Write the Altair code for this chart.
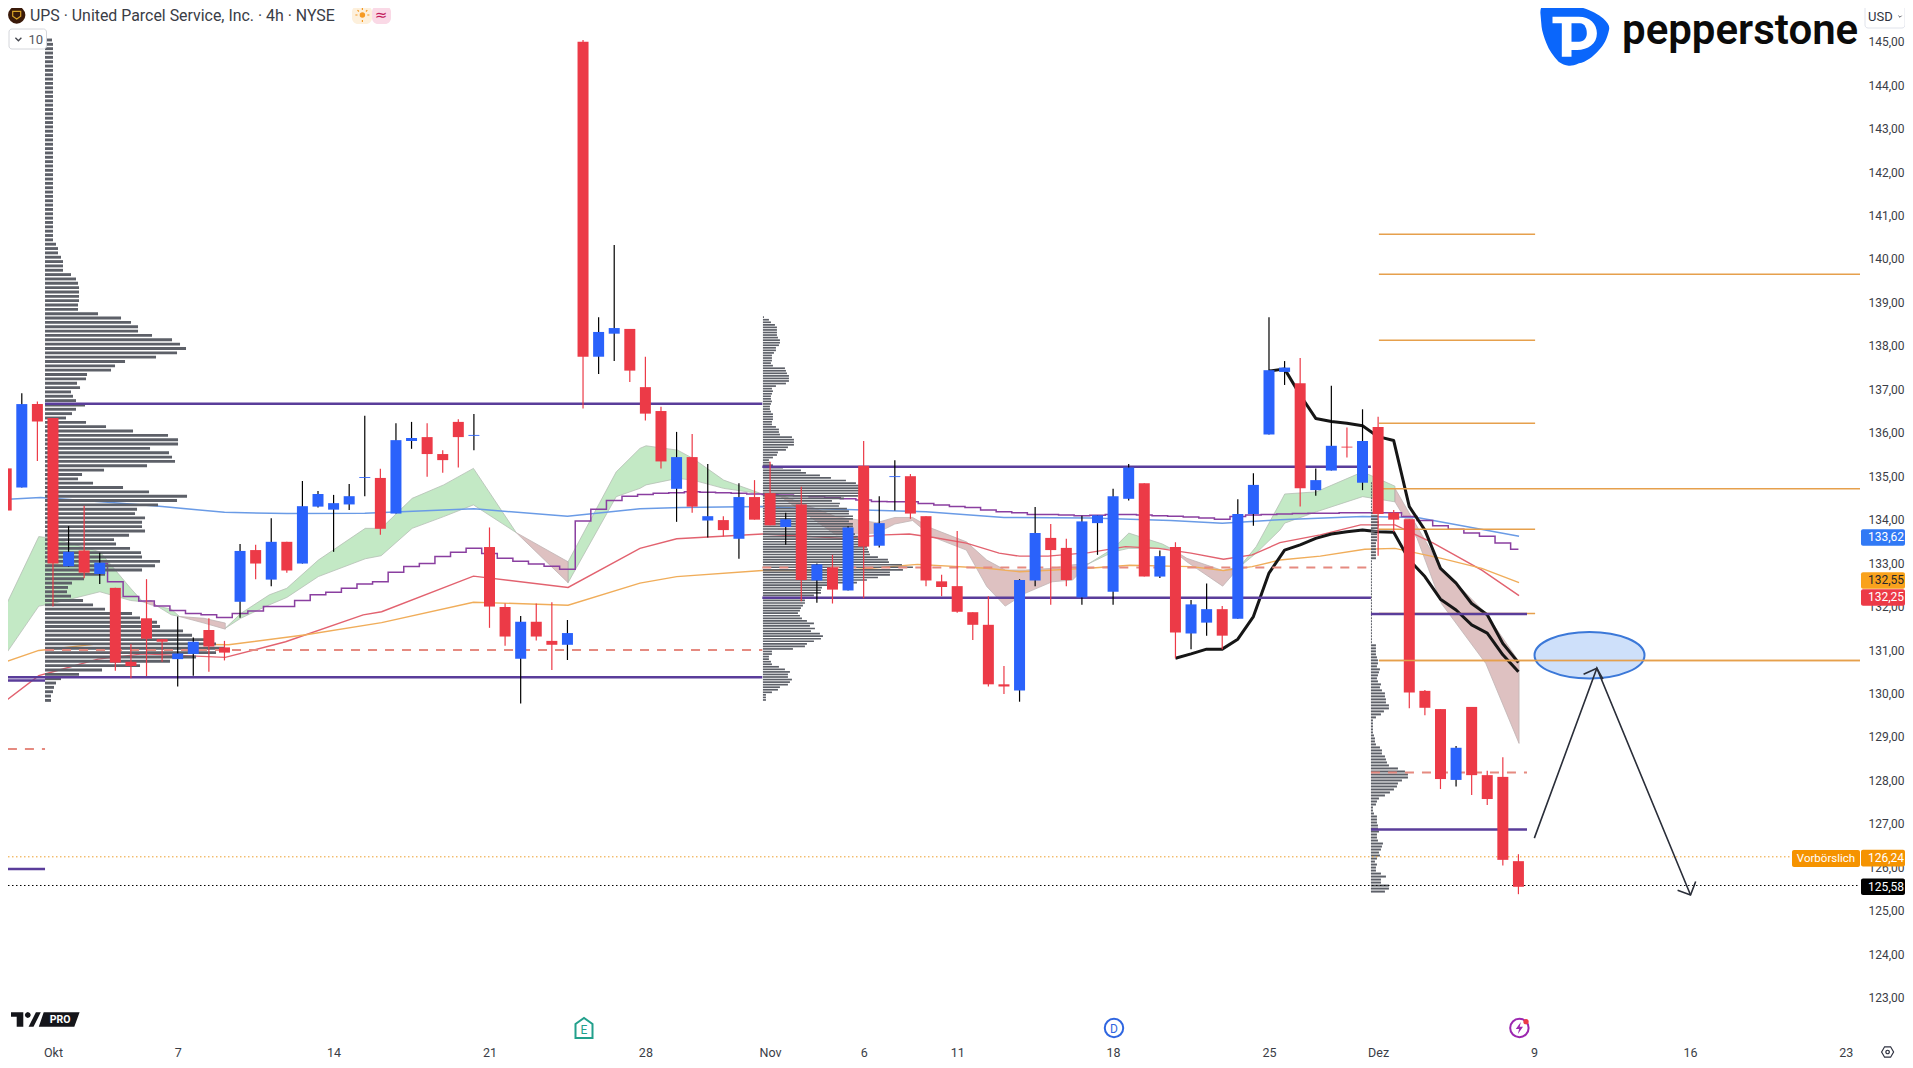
import altair as alt
import pandas as pd

FONT = "Roboto, sans-serif"
TXT = "#3a3d46"
RED = "#ec3a47"
BLUE = "#2a62fb"

# ---------- candles (open, high, low, close), one per 4h bar
opens = [135.18,134.74,136.66,136.34,132.93,133.29,132.75,132.43,130.73,131.73,131.25,130.79,130.91,131.46,131.06,132.11,133.30,132.62,133.49,132.99,
         134.30,134.23,134.35,134.96,134.96,134.14,135.81,135.90,135.51,136.25,135.93,133.37,131.99,130.80,131.65,131.21,131.12,145.00,137.75,138.28,
         138.39,137.05,136.50,134.71,135.44,133.98,133.99,133.56,134.52,134.61,133.83,134.35,132.60,132.90,132.37,135.24,133.40,134.98,135.00,134.08,
         132.58,132.47,131.87,131.58,130.21,130.07,132.60,133.58,133.35,132.21,133.92,132.34,134.48,134.84,132.69,133.37,131.38,131.63,131.94,131.72,
         134.13,135.96,137.40,137.14,134.68,135.13,135.68,134.85,136.13,134.16,134.01,130.06,129.64,128.01,129.69,128.12,128.08,126.14]
highs = [135.22,136.91,136.72,136.34,133.85,134.32,133.24,132.43,131.14,132.63,131.25,131.77,131.29,131.73,131.21,133.44,133.42,134.03,133.49,134.89,
         134.66,134.57,134.82,136.39,135.17,136.22,136.25,136.22,135.60,136.31,136.43,133.82,132.07,131.78,132.07,132.10,131.69,145.04,138.66,140.32,
         138.39,137.75,136.60,136.02,135.97,135.28,134.08,134.84,134.91,135.33,134.16,134.76,132.99,133.19,133.85,135.81,134.54,135.37,135.05,134.08,
         132.73,133.74,131.87,132.24,130.63,132.63,134.29,133.90,133.56,134.09,134.10,134.71,135.28,134.84,133.29,133.48,132.15,132.53,132.01,134.47,
         135.07,138.66,137.65,137.72,135.18,137.08,136.12,136.54,136.37,134.22,134.01,130.08,129.64,128.79,129.69,128.22,128.53,126.30]
lows = [134.16,134.74,135.35,132.00,132.92,132.65,132.52,130.52,130.35,130.40,130.73,130.16,130.41,130.50,130.76,131.74,132.63,132.47,132.78,132.99,
        134.28,133.26,134.22,134.54,133.65,134.14,135.63,134.99,135.08,135.20,135.60,131.51,131.10,129.77,131.22,130.54,130.77,136.56,137.35,137.65,
        137.17,136.28,135.18,133.95,134.16,133.59,133.61,133.10,134.00,133.87,133.42,132.12,132.09,132.07,132.37,132.19,133.36,134.21,134.02,132.47,
        132.24,131.86,131.23,130.16,129.99,129.81,132.47,132.04,132.47,132.04,133.19,132.04,134.44,132.69,132.66,130.81,131.02,131.33,131.02,131.72,
        133.86,135.96,137.10,134.30,134.55,135.13,135.43,134.68,133.17,133.72,129.66,129.50,127.80,127.86,127.66,127.43,126.04,125.38]
closes = [134.21,136.66,136.26,132.99,133.26,132.78,133.01,130.71,130.63,131.26,131.19,130.92,131.19,131.08,130.94,133.28,132.99,133.49,132.83,134.31,
          134.59,134.38,134.54,134.98,133.79,135.83,135.88,135.51,135.37,135.90,135.95,132.00,131.31,131.65,131.31,131.12,131.39,137.75,138.32,138.41,
          137.43,136.44,135.34,135.44,134.30,134.08,133.76,134.52,134.00,133.87,134.01,132.61,132.97,132.39,133.82,133.38,133.92,135.00,134.14,132.60,
          132.45,131.88,131.58,130.21,130.16,132.61,133.69,133.30,132.61,133.96,134.10,134.54,135.20,132.69,133.16,131.40,132.05,131.94,131.33,134.13,
          134.80,137.44,137.50,134.72,134.91,135.70,135.66,135.81,134.13,134.00,130.02,129.67,128.03,128.75,128.12,127.57,126.17,125.55]

# ---------- moving averages (bar position, price)
blue_x = [0,2.2,6.1,10,14,18,23,30,36,40.65,43.3,48.5,51,55,59,64,69.5,74.7,78,81.7,87,90.5,97.04]
blue_p = [134.47,134.51,134.41,134.30,134.17,134.14,134.15,134.25,134.08,134.25,134.28,134.30,134.26,134.22,134.18,134.05,134.04,133.98,133.92,134.00,134.07,134.05,133.62]
red_x = [0,2.09,3,5.88,8.76,12.17,14.05,17.92,22.9,24.08,29.97,36.04,40.65,43.01,48.5,53.74,56.36,57.93,59.5,61.59,63.69,65,66.83,69.45,71.8,73.9,76,78.08,79.92,81.7,84.29,86.88,89.08,91.54,94.65,97.04]
red_p = [129.84,130.41,130.5,130.79,130.91,130.86,130.83,131.19,131.81,131.88,132.70,132.44,133.34,133.56,133.67,133.57,133.65,133.67,133.59,133.46,133.23,133.16,133.16,133.24,133.38,133.34,133.23,133.09,133.19,133.47,133.65,133.88,133.88,133.46,132.84,132.25]
orange_x = [0,2.09,5.88,10.07,14.26,19.23,24.08,29.97,36.04,40.65,43.01,48.5,53.74,58.45,62.9,65,69.45,72.06,76,78.08,79.92,81.7,84.29,87.14,89.08,92.06,94.65,97.04]
orange_p = [130.73,130.99,131.14,131.14,131.12,131.35,131.63,132.10,132.03,132.54,132.69,132.83,132.83,132.97,132.88,132.80,132.88,132.95,132.92,132.83,132.92,133.07,133.16,133.32,133.34,133.11,132.88,132.55]
purple_start = 6
purple_p = [132.99,132.57,132.23,132.13,132.01,131.91,131.84,131.81,131.75,131.84,131.90,132.00,132.00,132.14,132.27,132.33,132.42,132.52,132.57,132.79,
            132.92,132.99,133.15,133.25,133.34,133.22,133.11,133.04,132.98,132.93,132.86,133.97,134.24,134.44,134.54,134.58,134.61,134.62,134.64,134.63,
            134.62,134.61,134.59,134.58,134.57,134.55,134.53,134.51,134.48,134.45,134.42,134.41,134.41,134.37,134.34,134.30,134.28,134.22,134.18,134.16,
            134.12,134.12,134.11,134.09,134.10,134.12,134.12,134.11,134.09,134.08,134.06,134.04,134.01,134.07,134.11,134.12,134.13,134.14,134.15,134.15,
            134.16,134.16,134.16,134.16,134.07,133.98,133.86,133.78,133.69,133.62,133.46,133.32]
black1_start = 75
black1_p = [130.81,130.91,131.02,131.02,131.25,131.77,132.77,133.30,133.42,133.57,133.67,133.72,133.76,133.72,133.71,133.07,132.69,132.17,131.92,131.58,131.39,130.89,130.50]
black2_start = 81
black2_p = [137.42,137.47,136.87,136.33,136.26,136.22,136.16,135.91,135.82,134.30,133.76,132.88,132.54,132.07,131.81,131.15,130.71]

# ---------- ribbon: kind, then (bar position, upper, lower)
ribbon = [
 ("g", [(0,132.04,130.92),(2.09,133.61,132.01),(3,133.57,132.07),(6.01,133.26,132.34),(7.98,132.42,132.14),(8.76,132.11,132.11)]),
 ("r", [(8.76,132.11,132.11),(9.29,132.14,132.04),(9.68,132.01,132.01)]),
 ("g", [(9.68,132.01,132.01),(10.59,131.94,131.81),(11.12,131.77,131.77)]),
 ("r", [(11.12,131.77,131.77),(12.69,131.73,131.62),(14.05,131.62,131.48)]),
 ("g", [(14.05,131.50,131.50),(15.04,131.84,131.73),(16.88,132.27,132.04),(18,132.42,132.21),(20.02,133.07,132.69),(23.03,133.80,133.10),(24.05,133.80,133.17),(26.04,134.49,133.80),(28.06,134.80,134.07),(29.97,135.18,134.34),(32.72,133.70,133.70)]),
 ("r", [(32.72,133.70,133.70),(36.04,133.03,132.55)]),
 ("g", [(36.04,133.03,132.55),(39.13,135.10,134.53),(40.65,135.64,134.72),(41.04,135.70,134.80),(43.06,135.60,134.95),(44.05,135.41,134.91),(46.02,134.91,134.72),(48.5,134.59,134.59)]),
 ("r", [(48.5,134.59,134.59),(49.68,134.57,134.53),(53.22,134.07,133.65),(55.83,133.93,133.69),(57,134.05,133.90),(58.14,134.05,133.98),(59.37,133.80,133.61),(61.59,133.49,133.30),(62.9,133.07,132.46),(64.08,132.84,132.01),(65.39,132.84,132.31),(67.09,132.88,132.57),(68.4,132.96,132.61),(69.45,132.99,132.99)]),
 ("g", [(69.45,132.99,132.99),(71.02,133.34,133.26),(72.01,133.69,133.34),(74.16,133.44,133.34),(74.68,133.34,133.34)]),
 ("r", [(74.68,133.34,133.34),(75.73,133.11,133.03),(78.03,132.83,132.47),(79.13,132.92,132.92)]),
 ("g", [(79.13,132.92,132.92),(80.18,133.38,133.23),(81.7,134.38,133.76),(82.01,134.59,133.92),(84.03,134.64,134.18),(87.01,135.10,134.53),(89.08,134.77,134.41)]),
 ("r", [(89.08,134.72,134.41),(90.5,133.84,133.57),(92.06,132.88,132.07),(94.91,131.84,130.69),(97.04,130.73,128.85)]),
]

# ---------- volume profiles (row volume, top row to bottom row)
vp1_top, vp1_bottom, vp1_base = 145.04, 129.84, 2.49
vp1 = [7]+[8]*46+[11,13,13,16,18,18,18,26,31,33,34,34,34,34,33,33,53,76,86,93,93,107,127,135,141,132,111,
       80,70,66,42,41,32,35,26,28,31,40,31,27,21,41,61,88,123,133,133,105,124,127,130,102,59,37,33,48,78,104,142,132,113,92,90,100,97,97,100,84,69,71,85,96,97,115,110,97,60,39,27,23,22,26,38,48,60,87,95,112,115,138,147,159,171,180,171,151,125,95,57,34,16,11,9,8,6,6]
vp2_top, vp2_bottom, vp2_base = 138.66, 129.85, 48.54
vp2 = [1,6,8,12,14,14,14,14,15,17,17,16,13,13,11,9,9,9,8,10,22,23,24,26,26,26,23,13,9,10,9,8,8,9,8,7,7,8,10,10,10,9,9,13,16,16,17,29,31,31,31,25,23,15,14,10,6,7,10,20,
       38,43,57,68,83,93,99,100,100,100,95,81,69,77,76,84,86,86,90,90,86,
       90,90,88,88,92,95,98,100,102,104,105,106,107,115,125,126,139,150,140,127,127,115,104,94,75,59,58,58,51,42,42,42,40,38,37,35,37,39,44,51,47,52,48,57,60,58,51,44,42,30,9,9,6,6,8,9,16,22,27,25,25,29,27,25,17,15,9,3,3,3]
vp3_top, vp3_bottom, vp3_base = 134.84, 125.44, 87.54
vp3 = [1]*10+[7,7,7,8,8,7,7,6,6,6,5,5,5,5,5,5]+[1]*28+[5,5,5,5,6,7,7,6,9,8,7,6,7,10,9,11,14,14,15,15,
       18,18,13,10,5,2,2,2,2,2,3,4,4,5,9,11,11,14,15,16,18,27,34,37,37,31,27,26,23,19,14,8,6,5,2,2,3,6,6,6,7,7,8,6,6,7,12,11,10,8,9,6,4,6,5,5,10,15,10,10,18,18,14]

# ---------- horizontal levels: start bar, end bar, price
purple_levels = [(2.49,48.5,136.67),(0.11,48.5,130.37),(0.11,2.49,130.30),(48.5,87.54,135.22),(48.5,87.54,132.20),(87.54,97.55,131.83),(87.54,97.55,126.87),(0.11,2.49,125.96)]
dashed_levels = [(2.49,48.5,131.00),(48.5,87.54,132.90),(87.54,97.55,128.18),(0.11,2.49,128.72)]
fib_levels = [(88.05,98.07,140.57),(88.05,118.91,139.65),(88.05,98.07,138.13),(88.05,98.07,136.22),(88.05,118.91,134.71),(88.05,98.07,133.78),(88.05,98.07,131.84),(88.05,118.91,130.76)]

# ---------- projected path and target zone
arrow_x = [98.02,102.03,108.04]
arrow_p = [126.67,130.58,125.36]
head1_x = [101.18,102.03,102.42]
head1_p = [130.44,130.58,130.33]
head2_x = [107.21,108.04,108.37]
head2_p = [125.47,125.36,125.67]
zone_x, zone_p = 101.56, 130.88

# ---------- axes and price tags
tick_idx = [3,11,21,31,41,49,55,61,71,81,88,98,108,118]
tick_lbl = ["Okt","7","14","21","28","Nov","6","11","18","25","Dez","9","16","23"]
price_ticks = list(range(123,146))
tag_text = ["133,62","132,55","132,25","126,24","125,58"]
tag_pos = [133.59,132.60,132.21,126.21,125.55]
tag_fill = ["#3179f5","#f9a21c","#ec3a47","#f59300","#000000"]
tag_ink = ["#ffffff","#26262c","#ffffff","#ffffff","#ffffff"]

label_map = "{" + ",".join(f"'{i}':'{t}'" for i,t in zip(tick_idx,tick_lbl)) + "}"
xaxis = alt.Axis(orient="bottom", values=tick_idx, labelExpr=f"{label_map}[''+datum.value]", title=None, grid=False, domain=False, ticks=False,
        labelPadding=6, labelColor=TXT, labelFont=FONT, labelFontSize=12.5, labelOverlap=False, labelFlush=False, labelBound=False)
yaxis = alt.Axis(orient="right", values=price_ticks, labelExpr="replace(format(datum.value,'.2f'),'.',',')", title=None, grid=False, domain=False, ticks=False,
        labelPadding=8, labelColor=TXT, labelFont=FONT, labelFontSize=12, labelOverlap=False, labelFlush=False, labelBound=False)

xs = alt.Scale(domain=[0.115,118.91], nice=False, zero=False, padding=0)
ys = alt.Scale(domain=[122.024,145.776], nice=False, zero=False, padding=0)
X = lambda f: alt.X(f, type="quantitative", scale=xs, axis=xaxis)
Y = lambda f: alt.Y(f, type="quantitative", scale=ys, axis=yaxis)
one = pd.DataFrame({"a":[0]})

candles = pd.DataFrame({"i":range(len(opens)),"o":opens,"h":highs,"l":lows,"c":closes})
candles["top"] = candles[["o","c"]].max(axis=1)
candles["bot"] = candles[["o","c"]].min(axis=1)
candles["up"] = candles.c >= candles.o
col = alt.condition("datum.up", alt.value(BLUE), alt.value(RED))
wcol = alt.condition("datum.up", alt.value("#000000"), alt.value(RED))

def polyline(xv, pv, color, width, **kw):
    d = pd.DataFrame({"x":xv,"p":pv})
    return alt.Chart(d).mark_line(color=color, strokeWidth=width, clip=True, **kw).encode(x=X("x"),y=Y("p"))

rows = []
for n,(kind,pts) in enumerate(ribbon):
    for x,u,l in pts:
        rows.append({"seg":n,"kind":kind,"x":x,"u":u,"l":l})
rib = pd.DataFrame(rows)
def rib_layer(kind, fill, stroke):
    return alt.Chart(rib[rib.kind==kind]).mark_area(color=fill, opacity=0.85, stroke=stroke, strokeWidth=0.8, orient="vertical", clip=True, interpolate="linear").encode(
        x=X("x"),y=Y("u"),y2="l",detail="seg:N")

def profile(vals, top, bottom, base):
    n = len(vals)
    step = (top-bottom)/(n-1)
    d = pd.DataFrame({"v":vals})
    d["p"] = [top-step*k for k in range(n)]
    d["y1"] = d.p+step*0.33
    d["y2"] = d.p-step*0.33
    d["x1"] = base
    d["x2"] = base+d.v/15.59
    return alt.Chart(d).mark_rect(color="#5d6068").encode(x=X("x1"),x2="x2",y=Y("y1"),y2="y2")

def levels(data, color, width, **kw):
    d = pd.DataFrame(data, columns=["a","b","p"])
    return alt.Chart(d).mark_rule(color=color, strokeWidth=width, clip=True, **kw).encode(x=X("a"),x2="b",y=Y("p"))

def deco(path, px, py, color, size=400, filled=True, sw=1.0):
    return alt.Chart(one).mark_point(shape=path, filled=filled, color=color, opacity=1, size=size, strokeWidth=sw).encode(
        x=alt.value(px-8), y=alt.value(py-8))

def label(t, px, py, size, color=TXT, align="left", weight="normal", font=FONT):
    return alt.Chart(one).mark_text(text=t, fontSize=size, color=color, align=align, baseline="middle", fontWeight=weight, font=font).encode(
        x=alt.value(px-8), y=alt.value(py-8))

def box(x1,x2,y1,y2,fill,stroke=None,radius=3):
    kw = {"stroke":stroke,"strokeWidth":1} if stroke else {}
    return alt.Chart(one).mark_rect(color=fill, cornerRadius=radius, **kw).encode(
        x=alt.value(x1-8),x2=alt.value(x2-8),y=alt.value(y1-8),y2=alt.value(y2-8))

ind = [
       rib_layer("g","#b9e6bb","#a8b4a8"), rib_layer("r","#d9b7b7","#b5a7a7"),
       polyline(blue_x,blue_p,"#6a9be6",1.5), polyline(red_x,red_p,"#e2626f",1.4), polyline(orange_x,orange_p,"#f0ad5a",1.4),
       polyline(list(range(purple_start,purple_start+len(purple_p))),purple_p,"#8a3fa0",1.5,interpolate="step"),
       polyline(list(range(black1_start,black1_start+len(black1_p))),black1_p,"#161616",3,strokeJoin="round"),
       polyline(list(range(black2_start,black2_start+len(black2_p))),black2_p,"#161616",3,strokeJoin="round"),
       profile(vp1,vp1_top,vp1_bottom,vp1_base), profile(vp2,vp2_top,vp2_bottom,vp2_base), profile(vp3,vp3_top,vp3_bottom,vp3_base),
       levels(fib_levels,"#e6a04c",1.5),
       levels(purple_levels,"#5a3d9a",2.5),
       levels(dashed_levels,"#e58a80",2,strokeDash=[9,8]),
       levels([(0.115,118.91,126.24)],"#ee9f2c",1,strokeDash=[1.5,2.5]),
       levels([(0.115,118.91,125.58)],"#000000",1,strokeDash=[1.5,2.5]),
       alt.Chart(candles).mark_rule(strokeWidth=1.2, clip=True).encode(x=X("i"),y=Y("h"),y2="l",color=wcol),
       alt.Chart(candles).mark_bar(size=11, clip=True).encode(x=X("i"),y=Y("top"),y2="bot",color=col),
]

ellipse = "M-1,0C-1,-.234,-.552,-.424,0,-.424C.552,-.424,1,-.234,1,0C1,.234,.552,.424,0,.424C-.552,.424,-1,.234,-1,0Z"
zone = alt.Chart(pd.DataFrame({"x":[zone_x],"p":[zone_p]})).mark_point(shape=ellipse, size=12100, filled=True, color="#9ec2f5", fillOpacity=0.5, stroke="#3b78d8", strokeWidth=2, opacity=1).encode(x=X("x"),y=Y("p"))
zone_line = levels([(88.05,118.91,130.76)],"#e6a04c",1.5)

tag_df = pd.DataFrame({"t":tag_text,"p":tag_pos,"f":tag_fill,"k":tag_ink})
tag_df["a"] = tag_df.p+0.19
tag_df["b"] = tag_df.p-0.19
tags = alt.Chart(tag_df).mark_rect(cornerRadius=2).encode(x=alt.value(1853),x2=alt.value(1897),y=Y("a"),y2="b",color=alt.Color("f:N",scale=None))
tag_txt = alt.Chart(tag_df).mark_text(align="left",baseline="middle",fontSize=12,font=FONT).encode(x=alt.value(1860),y=Y("p"),text="t:N",color=alt.Color("k:N",scale=None))

shield = "M-3.36,-2.17C-3.4,-2.8,-3.1,-3.15,-2.76,-3.1L-.33,-3C1,-2.8,2.3,-2.2,2.9,-1.67C3.4,-1.2,3.6,-.9,3.5,-.5C3.3,.4,3,1,2.5,1.5C1.9,2.2,1.2,2.7,.5,2.83C0,3.05,-.3,3.1,-.53,3.07C-.9,3.05,-1.2,2.9,-1.54,2.67C-2.1,2.1,-2.5,1.5,-2.76,.83C-3,.2,-3.2,-.4,-3.24,-.83Z"
pee = "M-2.15,-1.83L.47,-1.83C1.6,-1.83,2.29,-1.1,2.29,-.17C2.29,.9,1.4,1.5,.3,1.5L-.25,1.5L-.25,2.17L-1.22,2.17L-1.22,-1.17L-2.15,-1.17Z"
pee_hole = "M-.25,-1.17L.6,-1.17C1.1,-1.17,1.28,-.6,1.28,-.17C1.28,.3,1,.67,.5,.67L-.25,.67Z"
tv = "M-3.45,-.72L-2.22,-.72L-2.22,.72L-2.88,.72L-2.88,-.28L-3.45,-.28ZM-1.69,.72L-.96,-.72L-.47,-.72L-1.2,.72ZM-.18,-.72L3.41,-.72L2.88,.72L-.67,.72ZM-2.07,-.45L-1.98,-.66L-1.77,-.75L-1.56,-.66L-1.47,-.45L-1.56,-.24L-1.77,-.15L-1.98,-.24Z"
tag_shape = "M-.85,1L-.85,-.4L0,-1L.85,-.4L.85,1Z"
hexagon = "M-1,0L-.5,-.87L.5,-.87L1,0L.5,.87L-.5,.87Z"
bolt = "M.25,-1L-.6,.15L-.05,.15L-.25,1L.6,-.2L.05,-.2Z"
chevron = "M-1,-.5L0,.5L1,-.5"
rays = "M0,-1L0,-.7M0,1L0,.7M-1,0L-.7,0M1,0L.7,0M-.7,-.7L-.5,-.5M.7,-.7L.5,-.5"

decor = [
  zone, zone_line,
  polyline(arrow_x,arrow_p,"#2a2e39",1.6), polyline(head1_x,head1_p,"#2a2e39",1.6), polyline(head2_x,head2_p,"#2a2e39",1.6),
  tags, tag_txt,
  box(1792,1860,850,867,"#f59300",radius=2), label("Vorbörslich",1826,858.5,11.5,"#ffffff","center"),
  # header
  deco("circle",16.7,15,"#3a1a0a",size=300), deco("M-1,-.9L1,-.9L1,.3L0,1L-1,.3Z",16.7,15,"#d9a227",size=64,filled=False,sw=1.2),
  label("UPS · United Parcel Service, Inc. · 4h · NYSE",30,15.5,15.9),
  box(352,372,6,24,"#fdf0dc",radius=6), box(372,391,6,24,"#fad9e6",radius=6),
  deco("circle",362.4,15,"#f59a23",size=30), deco(rays,362.4,15,"#f59a23",size=196,filled=False,sw=1.2),
  label("≈",381,15,15,"#c2185b","center",font="DejaVu Sans"),
  box(9,46.5,29,49,"#ffffff","#d4d6db"), deco(chevron,18.4,39.3,"#44464e",size=36,filled=False,sw=1.3), label("10",28.5,39.5,13,"#55575f"),
  # brand
  deco(shield,1574,35,"#0a66fb"), deco(pee,1574,35,"#ffffff"), deco(pee_hole,1574,35,"#0a66fb"),
  label("pepperstone",1622,31,42,"#0b0b0b",weight=600,font="Roboto"),
  box(1865,1905,4,28,"#ffffff","#e0e3eb"), label("USD",1868,16.5,13,"#2f3240"), deco(chevron,1900,16.5,"#55575f",size=10,filled=False,sw=1),
  # bottom
  deco(tv,45.5,1019.5,"#14151a"), label("PRO",60,1020,10.5,"#ffffff","center",weight="bold",font="Roboto"),
  deco(tag_shape,584,1028,"#22a08c",filled=False,sw=2), label("E",584,1029.5,12,"#22a08c","center"),
  deco("circle",1114,1028,"#2f66e0",size=340,filled=False,sw=2), label("D",1114,1028.5,12,"#2f66e0","center"),
  deco("circle",1519.4,1028,"#9c27b0",size=340,filled=False,sw=2), deco(bolt,1519.4,1028,"#9c27b0",size=144),
  deco("circle",1526,1021.7,"#ec3a47",size=28),
  deco(hexagon,1887.6,1052,"#2f3240",size=144,filled=False,sw=1.2), deco("circle",1887.6,1052,"#2f3240",size=12,filled=False,sw=1.2),
]

chart = alt.layer(*ind, *decor).properties(
    width=1852, height=1032,
    padding={"left":0,"top":0,"right":45,"bottom":20},
    autosize=alt.AutoSizeParams(type="none"),
    background="white",
).configure_view(stroke=None)

chart.save("out.html", embed_options={"renderer":"svg","actions":False})
